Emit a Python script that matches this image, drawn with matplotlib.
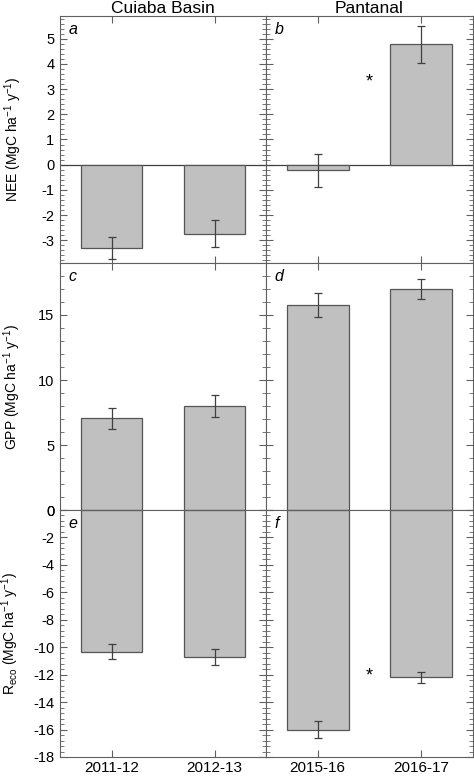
import matplotlib.pyplot as plt
from matplotlib.ticker import MultipleLocator

plt.rcParams['font.family'] = ['Liberation Sans', 'DejaVu Sans']
plt.rcParams['axes.unicode_minus'] = False

years_left = ["2011-12", "2012-13"]
years_right = ["2015-16", "2016-17"]

nee_left = [-3.3, -2.73]
nee_left_err = [0.43, 0.53]
nee_right = [-0.22, 4.77]
nee_right_err = [0.65, 0.72]

gpp_left = [7.05, 8.0]
gpp_left_err = [0.82, 0.81]
gpp_right = [15.76, 17.0]
gpp_right_err = [0.9, 0.75]

reco_left = [-10.33, -10.7]
reco_left_err = [0.53, 0.56]
reco_right = [-16.0, -12.2]
reco_right_err = [0.6, 0.4]

bar_col = "#c0c0c0"
edge_col = "#555555"
spine_col = "#606060"

fig = plt.figure(figsize=(4.74, 7.78), dpi=100)

x0, xm, x1 = 60/474, 266/474, 473/474
ys = [1-16/778, 1-263/778, 1-510/778, 1-757/778]

def make_ax(col, row):
    left = x0 if col == 0 else xm
    w = (xm - x0) if col == 0 else (x1 - xm)
    ax = fig.add_axes([left, ys[row+1], w, ys[row] - ys[row+1]])
    for s in ax.spines.values():
        s.set_color(spine_col)
    ax.tick_params(which='both', direction='in', top=True, right=True,
                   color=spine_col, labelsize=10.5, pad=4)
    ax.tick_params(which='major', length=5)
    ax.tick_params(which='minor', length=3)
    ax.tick_params(axis='x', pad=3)
    ax.set_xlim(-0.5, 1.5)
    ax.set_xticks([0, 1])
    ax.set_axisbelow(True)
    return ax

def bars(ax, vals, errs):
    ax.bar([0, 1], vals, width=0.6, color=bar_col, edgecolor=edge_col,
           linewidth=0.9, zorder=2)
    ax.errorbar([0, 1], vals, yerr=errs, fmt='none', ecolor='#404040',
                elinewidth=0.9, capsize=3, capthick=0.9, zorder=3)

panels = {}
for r in range(3):
    for c in range(2):
        panels[(r, c)] = make_ax(c, r)

# NEE
for c, (v, e) in enumerate([(nee_left, nee_left_err), (nee_right, nee_right_err)]):
    ax = panels[(0, c)]
    bars(ax, v, e)
    ax.axhline(0, color='#404040', lw=0.9, zorder=1)
    ax.set_ylim(-3.9, 5.9)
    ax.yaxis.set_major_locator(MultipleLocator(1))
    ax.yaxis.set_minor_locator(MultipleLocator(0.2))
    ax.set_xticklabels([])

# GPP
for c, (v, e) in enumerate([(gpp_left, gpp_left_err), (gpp_right, gpp_right_err)]):
    ax = panels[(1, c)]
    bars(ax, v, e)
    ax.set_ylim(0, 19)
    ax.yaxis.set_major_locator(MultipleLocator(5))
    ax.yaxis.set_minor_locator(MultipleLocator(1))
    ax.set_xticklabels([])
    ax.tick_params(axis='x', which='both', bottom=False)

# Reco
for c, (v, e) in enumerate([(reco_left, reco_left_err), (reco_right, reco_right_err)]):
    ax = panels[(2, c)]
    bars(ax, v, e)
    ax.set_ylim(-18, 0)
    ax.yaxis.set_major_locator(MultipleLocator(2))
    ax.yaxis.set_minor_locator(MultipleLocator(0.4))
    ax.tick_params(axis='x', which='both', top=False)

panels[(2, 0)].set_xticklabels(years_left, fontsize=11)
panels[(2, 1)].set_xticklabels(years_right, fontsize=11)

for r in range(3):
    panels[(r, 1)].set_yticklabels([])

# column titles
fig.text((60 + 266) / 2 / 474, 1 - 8.5 / 778, "Cuiaba Basin", fontsize=12.5,
         ha='center', va='center')
fig.text((266 + 473) / 2 / 474, 1 - 8.5 / 778, "Pantanal", fontsize=12.5,
         ha='center', va='center')

unit = r" (MgC ha$^\mathregular{-1}$ y$^\mathregular{-1}$)"
panels[(0, 0)].set_ylabel("NEE" + unit, fontsize=10)
panels[(1, 0)].set_ylabel("GPP" + unit, fontsize=10)
panels[(2, 0)].set_ylabel(r"R$_\mathregular{eco}$" + unit, fontsize=10)
for r, px in [(0, 24), (1, 23), (2, 21)]:
    panels[(r, 0)].yaxis.set_label_coords((px - 60) / 206, 0.5)

letters = ['a', 'b', 'c', 'd', 'e', 'f']
for i, (r, c) in enumerate([(0, 0), (0, 1), (1, 0), (1, 1), (2, 0), (2, 1)]):
    panels[(r, c)].text(0.04, 0.975, letters[i], transform=panels[(r, c)].transAxes,
                        ha='left', va='top', fontsize=11.5, style='italic')

panels[(0, 1)].text(0.5, 3.3, "*", ha='center', va='center', fontsize=13)
panels[(2, 1)].text(0.5, -12.1, "*", ha='center', va='center', fontsize=13)

fig.savefig("out.png", dpi=100)
